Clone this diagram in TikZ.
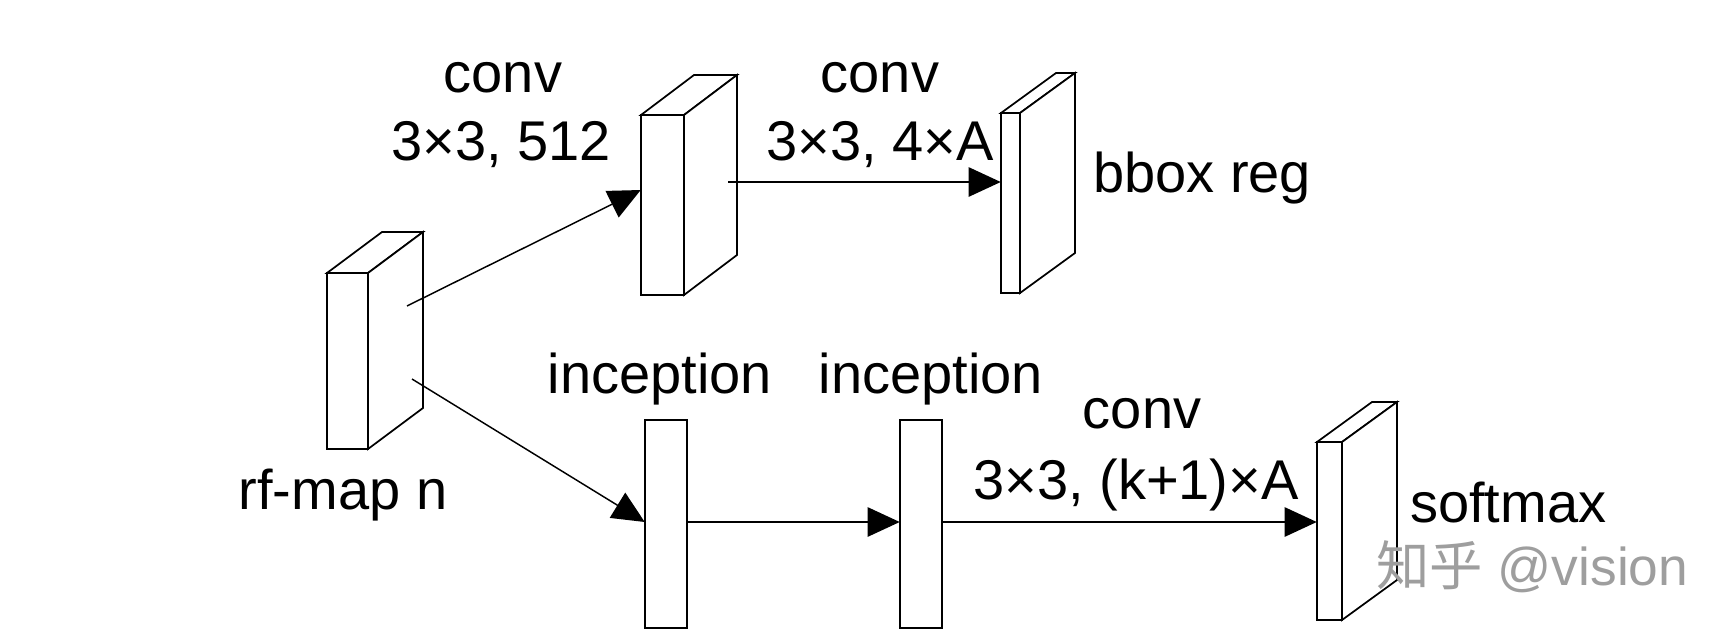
\documentclass[tikz,border=0pt]{standalone}
\usepackage{fontspec}
\setmainfont{Liberation Sans}
\newfontfamily\cjk{Noto Sans CJK SC}
\usetikzlibrary{arrows.meta,calc,fit}
\newcommand\myslab[6]{%
  \draw[box] (#2,#3) rectangle (#4,#5);
  \draw[box] (#2,#3) -- ++(#6) -- ($(#4,#3)+(#6)$) -- (#4,#3) -- cycle;
  \draw[box] (#4,#3) -- ($(#4,#3)+(#6)$) -- ($(#4,#5)+(#6)$) -- (#4,#5) -- cycle;
  \node[inner sep=0,fit={(#2,#3)(#4,#5)}] (#1) {};
}
\begin{document}
\begin{tikzpicture}[x=0.75pt,y=-0.75pt,
  box/.style={draw=black,fill=white,line width=1.3pt,line join=miter},
  lab/.style={font=\fontsize{42}{46}\selectfont,inner sep=0},
  arr/.style={line width=1.1pt,-{Triangle[length=24pt,width=22pt]}}]
\useasboundingbox (0,0) rectangle (1729,636);
\myslab{rf}{327}{273}{368}{449}{55,-41}
\myslab{cA}{641}{115}{684}{295}{53,-40}
\myslab{bb}{1001}{113}{1020}{293}{55,-40}
\myslab{sm}{1317}{442}{1342}{620}{55,-40}
\draw[box] (645,420) rectangle (687,628);
\node[inner sep=0,fit={(645,420)(687,628)}] (i1) {};
\draw[box] (900,420) rectangle (942,628);
\node[inner sep=0,fit={(900,420)(942,628)}] (i2) {};
\coordinate (s1) at (407,306);
\coordinate (s2) at (412,379);
\coordinate (s3) at (728,182);
\draw[arr] (s1) -- (cA.west |- 0,190);
\draw[arr] (s2) -- (i1.west |- 0,522);
\draw[arr] (s3) -- (bb.west |- s3);
\draw[arr] (i1.east |- 0,522) -- (i2.west |- 0,522);
\draw[arr] (i2.east |- 0,522) -- (sm.west |- 0,522);
\node[lab] at (503,78) {conv};
\node[lab] at (501,145) {3×3, 512};
\node[lab] at (880,78) {conv};
\node[lab] at (880,145) {3×3, 4×A};
\node[lab,anchor=west] at (1093,178) {bbox reg};
\node[lab] at (660,379) {inception};
\node[lab] at (931,379) {inception};
\node[lab] at (1142,414) {conv};
\node[lab] at (1136,485) {3×3, (k+1)×A};
\node[lab,anchor=west] at (1410,503) {softmax};
\node[lab] at (343,495) {rf-map n};
\node[anchor=west,inner sep=0,text=black!38,font=\fontsize{40}{44}\selectfont] at (1376,567) {{\cjk 知乎} @vision};
\end{tikzpicture}
\end{document}
